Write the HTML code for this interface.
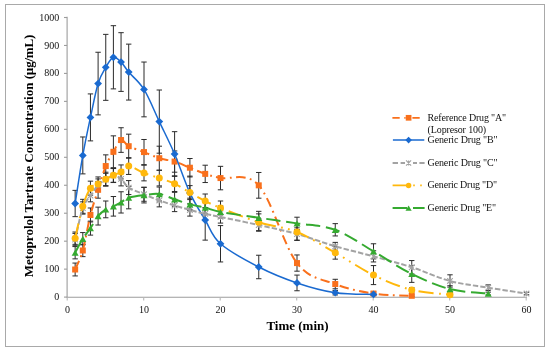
<!DOCTYPE html>
<html><head><meta charset="utf-8"><title>Chart</title>
<style>html,body{margin:0;padding:0;background:#fff}svg{display:block}</style></head>
<body>
<svg width="550" height="353" viewBox="0 0 550 353">
<rect x="0" y="0" width="550" height="353" fill="#fff"/>
<rect x="5.5" y="4.5" width="539" height="342" fill="#fff" stroke="#a9a9a9" stroke-width="1"/>
<g stroke="#9c9c9c" stroke-width="1.1" fill="none">
<path d="M67.1,16.80 V297.8"/>
<path d="M66.6,297.3 H527"/>
<path d="M64,297.10 H67.1"/>
<path d="M64,269.14 H67.1"/>
<path d="M64,241.18 H67.1"/>
<path d="M64,213.22 H67.1"/>
<path d="M64,185.26 H67.1"/>
<path d="M64,157.30 H67.1"/>
<path d="M64,129.34 H67.1"/>
<path d="M64,101.38 H67.1"/>
<path d="M64,73.42 H67.1"/>
<path d="M64,45.46 H67.1"/>
<path d="M64,17.50 H67.1"/>
<path d="M67.20,297.3 V300.4" stroke="#b8b8b8"/>
<path d="M143.70,297.3 V300.4" stroke="#b8b8b8"/>
<path d="M220.20,297.3 V300.4" stroke="#b8b8b8"/>
<path d="M296.70,297.3 V300.4" stroke="#b8b8b8"/>
<path d="M373.20,297.3 V300.4" stroke="#b8b8b8"/>
<path d="M449.70,297.3 V300.4" stroke="#b8b8b8"/>
<path d="M526.20,297.3 V300.4" stroke="#b8b8b8"/>
</g>
<g font-family="'Liberation Serif', serif" font-size="10" fill="#111">
<text x="59.2" y="300.15" text-anchor="end">0</text>
<text x="59.2" y="272.19" text-anchor="end">100</text>
<text x="59.2" y="244.23" text-anchor="end">200</text>
<text x="59.2" y="216.27" text-anchor="end">300</text>
<text x="59.2" y="188.31" text-anchor="end">400</text>
<text x="59.2" y="160.35" text-anchor="end">500</text>
<text x="59.2" y="132.39" text-anchor="end">600</text>
<text x="59.2" y="104.43" text-anchor="end">700</text>
<text x="59.2" y="76.47" text-anchor="end">800</text>
<text x="59.2" y="48.51" text-anchor="end">900</text>
<text x="59.2" y="20.55" text-anchor="end">1000</text>
<text x="67.50" y="312.6" text-anchor="middle">0</text>
<text x="144.00" y="312.6" text-anchor="middle">10</text>
<text x="220.50" y="312.6" text-anchor="middle">20</text>
<text x="297.00" y="312.6" text-anchor="middle">30</text>
<text x="373.50" y="312.6" text-anchor="middle">40</text>
<text x="450.00" y="312.6" text-anchor="middle">50</text>
<text x="526.50" y="312.6" text-anchor="middle">60</text>
</g>
<text x="297.5" y="329.5" text-anchor="middle" font-family="'Liberation Serif', serif" font-size="13" font-weight="bold" fill="#000">Time (min)</text>
<g transform="translate(33,156) rotate(-90)" font-family="'Liberation Serif', serif" font-size="13" font-weight="bold" fill="#000"><text x="-121.25" y="0" textLength="194.7" lengthAdjust="spacing">Metoprolol Tartrate Concentration</text><text x="76.75" y="0" textLength="44.5" lengthAdjust="spacing">(µg/mL)</text></g>
<path d="M75.15,263.07 V275.93 M72.45,263.07 H77.85 M72.45,275.93 H77.85 M82.80,244.34 V256.64 M80.10,244.34 H85.50 M80.10,256.64 H85.50 M90.45,207.99 V221.97 M87.75,207.99 H93.15 M87.75,221.97 H93.15 M98.10,181.43 V198.20 M95.40,181.43 H100.80 M95.40,198.20 H100.80 M105.75,154.86 V177.23 M103.05,154.86 H108.45 M103.05,177.23 H108.45 M113.40,135.85 V167.72 M110.70,135.85 H116.10 M110.70,167.72 H116.10 M121.05,127.74 V152.35 M118.35,127.74 H123.75 M118.35,152.35 H123.75 M128.70,134.17 V158.22 M126.00,134.17 H131.40 M126.00,158.22 H131.40 M144.00,139.49 V164.65 M141.30,139.49 H146.70 M141.30,164.65 H146.70 M159.30,146.20 V170.24 M156.60,146.20 H162.00 M156.60,170.24 H162.00 M174.60,150.95 V172.20 M171.90,150.95 H177.30 M171.90,172.20 H177.30 M189.90,158.50 V176.95 M187.20,158.50 H192.60 M187.20,176.95 H192.60 M205.20,165.21 V182.54 M202.50,165.21 H207.90 M202.50,182.54 H207.90 M220.50,166.33 V189.81 M217.80,166.33 H223.20 M217.80,189.81 H223.20 M258.75,172.48 V198.20 M256.05,172.48 H261.45 M256.05,198.20 H261.45 M297.00,254.96 V271.18 M294.30,254.96 H299.70 M294.30,271.18 H299.70 M335.25,279.29 V288.79 M332.55,279.29 H337.95 M332.55,288.79 H337.95 M373.50,291.87 V295.22 M370.80,291.87 H376.20 M370.80,295.22 H376.20 M411.75,294.94 V296.62 M409.05,294.94 H414.45 M409.05,296.62 H414.45" fill="none" stroke="#2b2b2b" stroke-width="1"/>
<path d="M75.15,190.37 V216.65 M72.45,190.37 H77.85 M72.45,216.65 H77.85 M82.80,136.97 V173.88 M80.10,136.97 H85.50 M80.10,173.88 H85.50 M90.45,93.91 V140.88 M87.75,93.91 H93.15 M87.75,140.88 H93.15 M98.10,52.25 V114.88 M95.40,52.25 H100.80 M95.40,114.88 H100.80 M105.75,34.36 V100.34 M103.05,34.36 H108.45 M103.05,100.34 H108.45 M113.40,25.69 V88.88 M110.70,25.69 H116.10 M110.70,88.88 H116.10 M121.05,32.68 V91.39 M118.35,32.68 H123.75 M118.35,91.39 H123.75 M128.70,44.14 V100.06 M126.00,44.14 H131.40 M126.00,100.06 H131.40 M144.00,62.04 V116.84 M141.30,62.04 H146.70 M141.30,116.84 H146.70 M159.30,90.00 V153.19 M156.60,90.00 H162.00 M156.60,153.19 H162.00 M174.60,131.66 V176.39 M171.90,131.66 H177.30 M171.90,176.39 H177.30 M189.90,176.11 V209.66 M187.20,176.11 H192.60 M187.20,209.66 H192.60 M205.20,199.88 V240.14 M202.50,199.88 H207.90 M202.50,240.14 H207.90 M220.50,225.60 V261.95 M217.80,225.60 H223.20 M217.80,261.95 H223.20 M258.75,255.24 V278.73 M256.05,255.24 H261.45 M256.05,278.73 H261.45 M297.00,275.09 V290.75 M294.30,275.09 H299.70 M294.30,290.75 H299.70 M335.25,290.47 V294.94 M332.55,290.47 H337.95 M332.55,294.94 H337.95 M373.50,293.27 V295.50 M370.80,293.27 H376.20 M370.80,295.50 H376.20" fill="none" stroke="#2b2b2b" stroke-width="1"/>
<path d="M75.15,233.43 V245.73 M72.45,233.43 H77.85 M72.45,245.73 H77.85 M82.80,201.84 V214.14 M80.10,201.84 H85.50 M80.10,214.14 H85.50 M90.45,189.53 V201.84 M87.75,189.53 H93.15 M87.75,201.84 H93.15 M98.10,178.91 V191.21 M95.40,178.91 H100.80 M95.40,191.21 H100.80 M105.75,173.32 V185.62 M103.05,173.32 H108.45 M103.05,185.62 H108.45 M113.40,168.56 V182.54 M110.70,168.56 H116.10 M110.70,182.54 H116.10 M121.05,171.92 V185.90 M118.35,171.92 H123.75 M118.35,185.90 H123.75 M128.70,180.59 V194.57 M126.00,180.59 H131.40 M126.00,194.57 H131.40 M144.00,187.30 V201.28 M141.30,187.30 H146.70 M141.30,201.28 H146.70 M159.30,194.01 V206.87 M156.60,194.01 H162.00 M156.60,206.87 H162.00 M174.60,199.32 V211.62 M171.90,199.32 H177.30 M171.90,211.62 H177.30 M189.90,203.79 V216.10 M187.20,203.79 H192.60 M187.20,216.10 H192.60 M205.20,207.71 V220.01 M202.50,207.71 H207.90 M202.50,220.01 H207.90 M220.50,210.78 V223.09 M217.80,210.78 H223.20 M217.80,223.09 H223.20 M258.75,218.89 V231.19 M256.05,218.89 H261.45 M256.05,231.19 H261.45 M297.00,227.84 V240.14 M294.30,227.84 H299.70 M294.30,240.14 H299.70 M335.25,242.38 V250.21 M332.55,242.38 H337.95 M332.55,250.21 H337.95 M373.50,250.77 V261.95 M370.80,250.77 H376.20 M370.80,261.95 H376.20 M411.75,260.55 V273.97 M409.05,260.55 H414.45 M409.05,273.97 H414.45 M450.00,274.81 V287.11 M447.30,274.81 H452.70 M447.30,287.11 H452.70 M488.25,284.88 V290.47 M485.55,284.88 H490.95 M485.55,290.47 H490.95 M526.50,292.43 V294.66 M523.80,292.43 H529.20 M523.80,294.66 H529.20" fill="none" stroke="#2b2b2b" stroke-width="1"/>
<path d="M75.15,232.03 V244.34 M72.45,232.03 H77.85 M72.45,244.34 H77.85 M82.80,199.32 V213.30 M80.10,199.32 H85.50 M80.10,213.30 H85.50 M90.45,181.15 V195.13 M87.75,181.15 H93.15 M87.75,195.13 H93.15 M98.10,176.95 V190.93 M95.40,176.95 H100.80 M95.40,190.93 H100.80 M105.75,172.20 V186.18 M103.05,172.20 H108.45 M103.05,186.18 H108.45 M113.40,168.28 V182.26 M110.70,168.28 H116.10 M110.70,182.26 H116.10 M121.05,164.93 V178.91 M118.35,164.93 H123.75 M118.35,178.91 H123.75 M128.70,157.66 V174.44 M126.00,157.66 H131.40 M126.00,174.44 H131.40 M144.00,165.21 V180.87 M141.30,165.21 H146.70 M141.30,180.87 H146.70 M159.30,170.24 V185.90 M156.60,170.24 H162.00 M156.60,185.90 H162.00 M174.60,175.83 V191.49 M171.90,175.83 H177.30 M171.90,191.49 H177.30 M189.90,185.62 V199.60 M187.20,185.62 H192.60 M187.20,199.60 H192.60 M205.20,194.01 V207.99 M202.50,194.01 H207.90 M202.50,207.99 H207.90 M220.50,201.00 V214.98 M217.80,201.00 H223.20 M217.80,214.98 H223.20 M258.75,213.86 V230.63 M256.05,213.86 H261.45 M256.05,230.63 H261.45 M297.00,223.64 V240.42 M294.30,223.64 H299.70 M294.30,240.42 H299.70 M335.25,246.29 V259.15 M332.55,246.29 H337.95 M332.55,259.15 H337.95 M373.50,265.58 V284.60 M370.80,265.58 H376.20 M370.80,284.60 H376.20 M411.75,287.67 V292.15 M409.05,287.67 H414.45 M409.05,292.15 H414.45 M450.00,293.82 V295.50 M447.30,293.82 H452.70 M447.30,295.50 H452.70" fill="none" stroke="#2b2b2b" stroke-width="1"/>
<path d="M75.15,246.57 V258.87 M72.45,246.57 H77.85 M72.45,258.87 H77.85 M82.80,232.59 V244.89 M80.10,232.59 H85.50 M80.10,244.89 H85.50 M90.45,221.13 V235.11 M87.75,221.13 H93.15 M87.75,235.11 H93.15 M98.10,207.15 V225.04 M95.40,207.15 H100.80 M95.40,225.04 H100.80 M105.75,201.00 V217.77 M103.05,201.00 H108.45 M103.05,217.77 H108.45 M113.40,196.52 V216.10 M110.70,196.52 H116.10 M110.70,216.10 H116.10 M121.05,191.77 V213.02 M118.35,191.77 H123.75 M118.35,213.02 H123.75 M128.70,186.46 V208.83 M126.00,186.46 H131.40 M126.00,208.83 H131.40 M144.00,187.30 V202.95 M141.30,187.30 H146.70 M141.30,202.95 H146.70 M159.30,187.02 V201.00 M156.60,187.02 H162.00 M156.60,201.00 H162.00 M174.60,192.33 V206.31 M171.90,192.33 H177.30 M171.90,206.31 H177.30 M189.90,198.20 V210.50 M187.20,198.20 H192.60 M187.20,210.50 H192.60 M205.20,201.56 V213.86 M202.50,201.56 H207.90 M202.50,213.86 H207.90 M220.50,205.75 V218.05 M217.80,205.75 H223.20 M217.80,218.05 H223.20 M258.75,211.34 V224.20 M256.05,211.34 H261.45 M256.05,224.20 H261.45 M297.00,217.21 V229.52 M294.30,217.21 H299.70 M294.30,229.52 H299.70 M335.25,223.64 V235.95 M332.55,223.64 H337.95 M332.55,235.95 H337.95 M373.50,243.78 V258.87 M370.80,243.78 H376.20 M370.80,258.87 H376.20 M411.75,265.58 V282.36 M409.05,265.58 H414.45 M409.05,282.36 H414.45 M450.00,285.72 V292.43 M447.30,285.72 H452.70 M447.30,292.43 H452.70 M488.25,292.15 V294.94 M485.55,292.15 H490.95 M485.55,294.94 H490.95" fill="none" stroke="#2b2b2b" stroke-width="1"/>
<path d="M75.15,269.50 C76.43,266.33 80.25,259.57 82.80,250.49 C85.35,241.40 87.90,225.09 90.45,214.98 C93.00,204.86 95.55,197.97 98.10,189.81 C100.65,181.66 103.20,172.38 105.75,166.05 C108.30,159.71 110.85,156.12 113.40,151.79 C115.95,147.45 118.50,140.98 121.05,140.04 C123.60,139.11 124.87,144.19 128.70,146.20 C132.52,148.20 138.90,150.06 144.00,152.07 C149.10,154.07 154.20,156.63 159.30,158.22 C164.40,159.80 169.50,159.99 174.60,161.57 C179.70,163.16 184.80,165.67 189.90,167.72 C195.00,169.78 200.10,172.15 205.20,173.88 C210.30,175.60 211.57,176.16 220.50,178.07 C229.43,179.98 246.00,171.17 258.75,185.34 C271.50,199.51 284.25,246.62 297.00,263.07 C309.75,279.52 322.50,278.96 335.25,284.04 C348.00,289.12 360.75,291.59 373.50,293.54 C386.25,295.50 405.38,295.41 411.75,295.78" fill="none" stroke="#f9701c" stroke-width="2.0" stroke-dasharray="9.5 4.4 1.85 4.38" stroke-dashoffset="0" stroke-linejoin="round"/>
<rect x="72.15" y="266.50" width="6.00" height="6.00" fill="#f9701c"/>
<rect x="79.80" y="247.49" width="6.00" height="6.00" fill="#f9701c"/>
<rect x="87.45" y="211.98" width="6.00" height="6.00" fill="#f9701c"/>
<rect x="95.10" y="186.81" width="6.00" height="6.00" fill="#f9701c"/>
<rect x="102.75" y="163.05" width="6.00" height="6.00" fill="#f9701c"/>
<rect x="110.40" y="148.79" width="6.00" height="6.00" fill="#f9701c"/>
<rect x="118.05" y="137.04" width="6.00" height="6.00" fill="#f9701c"/>
<rect x="125.70" y="143.20" width="6.00" height="6.00" fill="#f9701c"/>
<rect x="141.00" y="149.07" width="6.00" height="6.00" fill="#f9701c"/>
<rect x="156.30" y="155.22" width="6.00" height="6.00" fill="#f9701c"/>
<rect x="171.60" y="158.57" width="6.00" height="6.00" fill="#f9701c"/>
<rect x="186.90" y="164.72" width="6.00" height="6.00" fill="#f9701c"/>
<rect x="202.20" y="170.88" width="6.00" height="6.00" fill="#f9701c"/>
<rect x="217.50" y="175.07" width="6.00" height="6.00" fill="#f9701c"/>
<rect x="255.75" y="182.34" width="6.00" height="6.00" fill="#f9701c"/>
<rect x="294.00" y="260.07" width="6.00" height="6.00" fill="#f9701c"/>
<rect x="332.25" y="281.04" width="6.00" height="6.00" fill="#f9701c"/>
<rect x="370.50" y="290.54" width="6.00" height="6.00" fill="#f9701c"/>
<rect x="408.75" y="292.78" width="6.00" height="6.00" fill="#f9701c"/>
<path d="M75.15,203.51 C76.43,195.50 80.25,169.78 82.80,155.42 C85.35,141.07 87.90,129.37 90.45,117.40 C93.00,105.42 95.55,91.91 98.10,83.57 C100.65,75.22 103.20,71.73 105.75,67.35 C108.30,62.97 110.85,58.17 113.40,57.28 C115.95,56.40 118.50,59.57 121.05,62.04 C123.60,64.51 124.87,67.53 128.70,72.10 C132.52,76.67 138.90,81.19 144.00,89.44 C149.10,97.68 154.20,110.83 159.30,121.59 C164.40,132.36 169.50,142.14 174.60,154.02 C179.70,165.91 184.80,181.89 189.90,192.89 C195.00,203.89 200.10,211.53 205.20,220.01 C210.30,228.49 211.57,235.95 220.50,243.78 C229.43,251.60 246.00,260.46 258.75,266.98 C271.50,273.51 284.25,278.63 297.00,282.92 C309.75,287.21 322.50,290.80 335.25,292.71 C348.00,294.62 367.12,294.10 373.50,294.38" fill="none" stroke="#1a6ad0" stroke-width="1.5" stroke-linejoin="round"/>
<path d="M75.15,199.61 L79.05,203.51 L75.15,207.41 L71.25,203.51 Z" fill="#1a6ad0"/>
<path d="M82.80,151.52 L86.70,155.42 L82.80,159.32 L78.90,155.42 Z" fill="#1a6ad0"/>
<path d="M90.45,113.50 L94.35,117.40 L90.45,121.30 L86.55,117.40 Z" fill="#1a6ad0"/>
<path d="M98.10,79.67 L102.00,83.57 L98.10,87.47 L94.20,83.57 Z" fill="#1a6ad0"/>
<path d="M105.75,63.45 L109.65,67.35 L105.75,71.25 L101.85,67.35 Z" fill="#1a6ad0"/>
<path d="M113.40,53.38 L117.30,57.28 L113.40,61.18 L109.50,57.28 Z" fill="#1a6ad0"/>
<path d="M121.05,58.14 L124.95,62.04 L121.05,65.94 L117.15,62.04 Z" fill="#1a6ad0"/>
<path d="M128.70,68.20 L132.60,72.10 L128.70,76.00 L124.80,72.10 Z" fill="#1a6ad0"/>
<path d="M144.00,85.54 L147.90,89.44 L144.00,93.34 L140.10,89.44 Z" fill="#1a6ad0"/>
<path d="M159.30,117.69 L163.20,121.59 L159.30,125.49 L155.40,121.59 Z" fill="#1a6ad0"/>
<path d="M174.60,150.12 L178.50,154.02 L174.60,157.92 L170.70,154.02 Z" fill="#1a6ad0"/>
<path d="M189.90,188.99 L193.80,192.89 L189.90,196.79 L186.00,192.89 Z" fill="#1a6ad0"/>
<path d="M205.20,216.11 L209.10,220.01 L205.20,223.91 L201.30,220.01 Z" fill="#1a6ad0"/>
<path d="M220.50,239.88 L224.40,243.78 L220.50,247.68 L216.60,243.78 Z" fill="#1a6ad0"/>
<path d="M258.75,263.08 L262.65,266.98 L258.75,270.88 L254.85,266.98 Z" fill="#1a6ad0"/>
<path d="M297.00,279.02 L300.90,282.92 L297.00,286.82 L293.10,282.92 Z" fill="#1a6ad0"/>
<path d="M335.25,288.81 L339.15,292.71 L335.25,296.61 L331.35,292.71 Z" fill="#1a6ad0"/>
<path d="M373.50,290.48 L377.40,294.38 L373.50,298.28 L369.60,294.38 Z" fill="#1a6ad0"/>
<path d="M75.15,239.58 C76.43,234.32 80.25,215.30 82.80,207.99 C85.35,200.67 87.90,199.51 90.45,195.68 C93.00,191.86 95.55,187.76 98.10,185.06 C100.65,182.36 103.20,181.05 105.75,179.47 C108.30,177.88 110.85,175.65 113.40,175.55 C115.95,175.46 118.50,176.90 121.05,178.91 C123.60,180.91 124.87,185.01 128.70,187.58 C132.52,190.14 138.90,192.14 144.00,194.29 C149.10,196.43 154.20,198.57 159.30,200.44 C164.40,202.30 169.50,203.89 174.60,205.47 C179.70,207.06 184.80,208.55 189.90,209.94 C195.00,211.34 200.10,212.69 205.20,213.86 C210.30,215.02 211.57,215.07 220.50,216.93 C229.43,218.80 246.00,222.20 258.75,225.04 C271.50,227.89 284.25,230.45 297.00,233.99 C309.75,237.53 322.50,242.56 335.25,246.29 C348.00,250.02 360.75,252.86 373.50,256.36 C386.25,259.85 399.00,263.16 411.75,267.26 C424.50,271.36 437.25,277.56 450.00,280.96 C462.75,284.36 475.50,285.58 488.25,287.67 C501.00,289.77 520.12,292.57 526.50,293.54" fill="none" stroke="#a3a3a3" stroke-width="2.0" stroke-dasharray="5.4 2.08" stroke-dashoffset="6.9" stroke-linejoin="round"/>
<path d="M72.35,236.78 L77.95,242.38 M72.35,242.38 L77.95,236.78 M75.15,236.78 L75.15,242.38" stroke="#a3a3a3" stroke-width="1.1" fill="none"/>
<path d="M80.00,205.19 L85.60,210.79 M80.00,210.79 L85.60,205.19 M82.80,205.19 L82.80,210.79" stroke="#a3a3a3" stroke-width="1.1" fill="none"/>
<path d="M87.65,192.88 L93.25,198.48 M87.65,198.48 L93.25,192.88 M90.45,192.88 L90.45,198.48" stroke="#a3a3a3" stroke-width="1.1" fill="none"/>
<path d="M95.30,182.26 L100.90,187.86 M95.30,187.86 L100.90,182.26 M98.10,182.26 L98.10,187.86" stroke="#a3a3a3" stroke-width="1.1" fill="none"/>
<path d="M102.95,176.67 L108.55,182.27 M102.95,182.27 L108.55,176.67 M105.75,176.67 L105.75,182.27" stroke="#a3a3a3" stroke-width="1.1" fill="none"/>
<path d="M110.60,172.75 L116.20,178.35 M110.60,178.35 L116.20,172.75 M113.40,172.75 L113.40,178.35" stroke="#a3a3a3" stroke-width="1.1" fill="none"/>
<path d="M118.25,176.11 L123.85,181.71 M118.25,181.71 L123.85,176.11 M121.05,176.11 L121.05,181.71" stroke="#a3a3a3" stroke-width="1.1" fill="none"/>
<path d="M125.90,184.78 L131.50,190.38 M125.90,190.38 L131.50,184.78 M128.70,184.78 L128.70,190.38" stroke="#a3a3a3" stroke-width="1.1" fill="none"/>
<path d="M141.20,191.49 L146.80,197.09 M141.20,197.09 L146.80,191.49 M144.00,191.49 L144.00,197.09" stroke="#a3a3a3" stroke-width="1.1" fill="none"/>
<path d="M156.50,197.64 L162.10,203.24 M156.50,203.24 L162.10,197.64 M159.30,197.64 L159.30,203.24" stroke="#a3a3a3" stroke-width="1.1" fill="none"/>
<path d="M171.80,202.67 L177.40,208.27 M171.80,208.27 L177.40,202.67 M174.60,202.67 L174.60,208.27" stroke="#a3a3a3" stroke-width="1.1" fill="none"/>
<path d="M187.10,207.14 L192.70,212.74 M187.10,212.74 L192.70,207.14 M189.90,207.14 L189.90,212.74" stroke="#a3a3a3" stroke-width="1.1" fill="none"/>
<path d="M202.40,211.06 L208.00,216.66 M202.40,216.66 L208.00,211.06 M205.20,211.06 L205.20,216.66" stroke="#a3a3a3" stroke-width="1.1" fill="none"/>
<path d="M217.70,214.13 L223.30,219.73 M217.70,219.73 L223.30,214.13 M220.50,214.13 L220.50,219.73" stroke="#a3a3a3" stroke-width="1.1" fill="none"/>
<path d="M255.95,222.24 L261.55,227.84 M255.95,227.84 L261.55,222.24 M258.75,222.24 L258.75,227.84" stroke="#a3a3a3" stroke-width="1.1" fill="none"/>
<path d="M294.20,231.19 L299.80,236.79 M294.20,236.79 L299.80,231.19 M297.00,231.19 L297.00,236.79" stroke="#a3a3a3" stroke-width="1.1" fill="none"/>
<path d="M332.45,243.49 L338.05,249.09 M332.45,249.09 L338.05,243.49 M335.25,243.49 L335.25,249.09" stroke="#a3a3a3" stroke-width="1.1" fill="none"/>
<path d="M370.70,253.56 L376.30,259.16 M370.70,259.16 L376.30,253.56 M373.50,253.56 L373.50,259.16" stroke="#a3a3a3" stroke-width="1.1" fill="none"/>
<path d="M408.95,264.46 L414.55,270.06 M408.95,270.06 L414.55,264.46 M411.75,264.46 L411.75,270.06" stroke="#a3a3a3" stroke-width="1.1" fill="none"/>
<path d="M447.20,278.16 L452.80,283.76 M447.20,283.76 L452.80,278.16 M450.00,278.16 L450.00,283.76" stroke="#a3a3a3" stroke-width="1.1" fill="none"/>
<path d="M485.45,284.87 L491.05,290.47 M485.45,290.47 L491.05,284.87 M488.25,284.87 L488.25,290.47" stroke="#a3a3a3" stroke-width="1.1" fill="none"/>
<path d="M523.70,290.74 L529.30,296.34 M523.70,296.34 L529.30,290.74 M526.50,290.74 L526.50,296.34" stroke="#a3a3a3" stroke-width="1.1" fill="none"/>
<path d="M75.15,238.18 C76.43,232.87 80.25,214.65 82.80,206.31 C85.35,197.97 87.90,191.86 90.45,188.14 C93.00,184.41 95.55,185.43 98.10,183.94 C100.65,182.45 103.20,180.63 105.75,179.19 C108.30,177.74 110.85,176.49 113.40,175.27 C115.95,174.06 118.50,173.46 121.05,171.92 C123.60,170.38 124.87,165.86 128.70,166.05 C132.52,166.23 138.90,171.03 144.00,173.04 C149.10,175.04 154.20,176.30 159.30,178.07 C164.40,179.84 169.50,181.24 174.60,183.66 C179.70,186.09 184.80,189.72 189.90,192.61 C195.00,195.50 200.10,198.43 205.20,201.00 C210.30,203.56 211.57,204.45 220.50,207.99 C229.43,211.53 246.00,218.24 258.75,222.25 C271.50,226.25 284.25,226.95 297.00,232.03 C309.75,237.11 322.50,245.55 335.25,252.72 C348.00,259.90 360.75,268.89 373.50,275.09 C386.25,281.29 399.00,286.65 411.75,289.91 C424.50,293.17 443.62,293.87 450.00,294.66" fill="none" stroke="#ffb80c" stroke-width="2.0" stroke-dasharray="15 5.33 1.8 5.33 1.8 5.32" stroke-dashoffset="0" stroke-linejoin="round"/>
<circle cx="75.15" cy="238.18" r="3.50" fill="#ffb80c"/>
<circle cx="82.80" cy="206.31" r="3.50" fill="#ffb80c"/>
<circle cx="90.45" cy="188.14" r="3.50" fill="#ffb80c"/>
<circle cx="98.10" cy="183.94" r="3.50" fill="#ffb80c"/>
<circle cx="105.75" cy="179.19" r="3.50" fill="#ffb80c"/>
<circle cx="113.40" cy="175.27" r="3.50" fill="#ffb80c"/>
<circle cx="121.05" cy="171.92" r="3.50" fill="#ffb80c"/>
<circle cx="128.70" cy="166.05" r="3.50" fill="#ffb80c"/>
<circle cx="144.00" cy="173.04" r="3.50" fill="#ffb80c"/>
<circle cx="159.30" cy="178.07" r="3.50" fill="#ffb80c"/>
<circle cx="174.60" cy="183.66" r="3.50" fill="#ffb80c"/>
<circle cx="189.90" cy="192.61" r="3.50" fill="#ffb80c"/>
<circle cx="205.20" cy="201.00" r="3.50" fill="#ffb80c"/>
<circle cx="220.50" cy="207.99" r="3.50" fill="#ffb80c"/>
<circle cx="258.75" cy="222.25" r="3.50" fill="#ffb80c"/>
<circle cx="297.00" cy="232.03" r="3.50" fill="#ffb80c"/>
<circle cx="335.25" cy="252.72" r="3.50" fill="#ffb80c"/>
<circle cx="373.50" cy="275.09" r="3.50" fill="#ffb80c"/>
<circle cx="411.75" cy="289.91" r="3.50" fill="#ffb80c"/>
<circle cx="450.00" cy="294.66" r="3.50" fill="#ffb80c"/>
<path d="M75.15,252.72 C76.43,250.39 80.25,242.84 82.80,238.74 C85.35,234.64 87.90,231.89 90.45,228.12 C93.00,224.34 95.55,219.22 98.10,216.10 C100.65,212.97 103.20,211.02 105.75,209.39 C108.30,207.75 110.85,207.47 113.40,206.31 C115.95,205.14 118.50,203.84 121.05,202.40 C123.60,200.95 124.87,198.85 128.70,197.64 C132.52,196.43 138.90,195.73 144.00,195.13 C149.10,194.52 154.20,193.31 159.30,194.01 C164.40,194.71 169.50,197.60 174.60,199.32 C179.70,201.04 184.80,202.95 189.90,204.35 C195.00,205.75 200.10,206.45 205.20,207.71 C210.30,208.97 211.57,210.22 220.50,211.90 C229.43,213.58 246.00,215.86 258.75,217.77 C271.50,219.68 284.25,221.36 297.00,223.37 C309.75,225.37 322.50,225.14 335.25,229.80 C348.00,234.46 360.75,243.96 373.50,251.33 C386.25,258.69 399.00,267.68 411.75,273.97 C424.50,280.26 437.25,285.81 450.00,289.07 C462.75,292.33 481.88,292.80 488.25,293.54" fill="none" stroke="#35aa30" stroke-width="2.0" stroke-dasharray="14.3 5.77" stroke-dashoffset="0.37" stroke-linejoin="round"/>
<path d="M75.15,249.75 L78.65,255.87 L71.65,255.87 Z" fill="#35aa30"/>
<path d="M82.80,235.77 L86.30,241.89 L79.30,241.89 Z" fill="#35aa30"/>
<path d="M90.45,225.14 L93.95,231.27 L86.95,231.27 Z" fill="#35aa30"/>
<path d="M98.10,213.12 L101.60,219.25 L94.60,219.25 Z" fill="#35aa30"/>
<path d="M105.75,206.41 L109.25,212.54 L102.25,212.54 Z" fill="#35aa30"/>
<path d="M113.40,203.33 L116.90,209.46 L109.90,209.46 Z" fill="#35aa30"/>
<path d="M121.05,199.42 L124.55,205.55 L117.55,205.55 Z" fill="#35aa30"/>
<path d="M128.70,194.67 L132.20,200.79 L125.20,200.79 Z" fill="#35aa30"/>
<path d="M144.00,192.15 L147.50,198.28 L140.50,198.28 Z" fill="#35aa30"/>
<path d="M159.30,191.03 L162.80,197.16 L155.80,197.16 Z" fill="#35aa30"/>
<path d="M174.60,196.34 L178.10,202.47 L171.10,202.47 Z" fill="#35aa30"/>
<path d="M189.90,201.38 L193.40,207.50 L186.40,207.50 Z" fill="#35aa30"/>
<path d="M205.20,204.73 L208.70,210.86 L201.70,210.86 Z" fill="#35aa30"/>
<path d="M220.50,208.93 L224.00,215.05 L217.00,215.05 Z" fill="#35aa30"/>
<path d="M258.75,214.80 L262.25,220.92 L255.25,220.92 Z" fill="#35aa30"/>
<path d="M297.00,220.39 L300.50,226.52 L293.50,226.52 Z" fill="#35aa30"/>
<path d="M335.25,226.82 L338.75,232.95 L331.75,232.95 Z" fill="#35aa30"/>
<path d="M373.50,248.35 L377.00,254.48 L370.00,254.48 Z" fill="#35aa30"/>
<path d="M411.75,271.00 L415.25,277.12 L408.25,277.12 Z" fill="#35aa30"/>
<path d="M450.00,286.10 L453.50,292.22 L446.50,292.22 Z" fill="#35aa30"/>
<path d="M488.25,290.57 L491.75,296.69 L484.75,296.69 Z" fill="#35aa30"/>
<path d="M392.4,117.80 H399.7 M404.3,117.80 H405.6 M412.4,117.80 H419.7" stroke="#f9701c" stroke-width="1.85" fill="none"/>
<rect x="405.75" y="114.95" width="5.70" height="5.70" fill="#f9701c"/>
<path d="M392.9,140.10 H424.3" stroke="#1a6ad0" stroke-width="1.5" fill="none"/>
<path d="M408.60,136.78 L411.92,140.10 L408.60,143.41 L405.29,140.10 Z" fill="#1a6ad0"/>
<path d="M392.6,163.00 H398 M400.6,163.00 H405 M413,163.00 H417 M419.4,163.00 H424.6" stroke="#a3a3a3" stroke-width="1.85" fill="none"/>
<path d="M406.08,160.48 L411.12,165.52 M406.08,165.52 L411.12,160.48 M408.60,160.48 L408.60,165.52" stroke="#a3a3a3" stroke-width="1.1" fill="none"/>
<path d="M392.6,185.40 H406.5 M413.2,185.40 H414.8 M420.2,185.40 H421.8" stroke="#ffb80c" stroke-width="1.85" fill="none"/>
<circle cx="408.60" cy="185.40" r="2.73" fill="#ffb80c"/>
<path d="M392.6,208.00 H407 M413,208.00 H424.6" stroke="#35aa30" stroke-width="1.85" fill="none"/>
<path d="M408.60,205.38 L411.68,210.77 L405.52,210.77 Z" fill="#35aa30"/>
<g font-family="'Liberation Serif', serif" font-size="10" fill="#111">
<text x="427.6" y="121" textLength="78.5" lengthAdjust="spacing">Reference Drug "A"</text>
<text x="427.6" y="132.6" textLength="58.5" lengthAdjust="spacing">(Lopresor 100)</text>
<text x="427.6" y="143.4" textLength="70" lengthAdjust="spacing">Generic Drug "B"</text>
<text x="427.6" y="165.7" textLength="70" lengthAdjust="spacing">Generic Drug "C"</text>
<text x="427.6" y="188.3" textLength="69.5" lengthAdjust="spacing">Generic Drug "D"</text>
<text x="427.6" y="210.8" textLength="68.5" lengthAdjust="spacing">Generic Drug "E"</text>
</g>
</svg>
</body></html>
